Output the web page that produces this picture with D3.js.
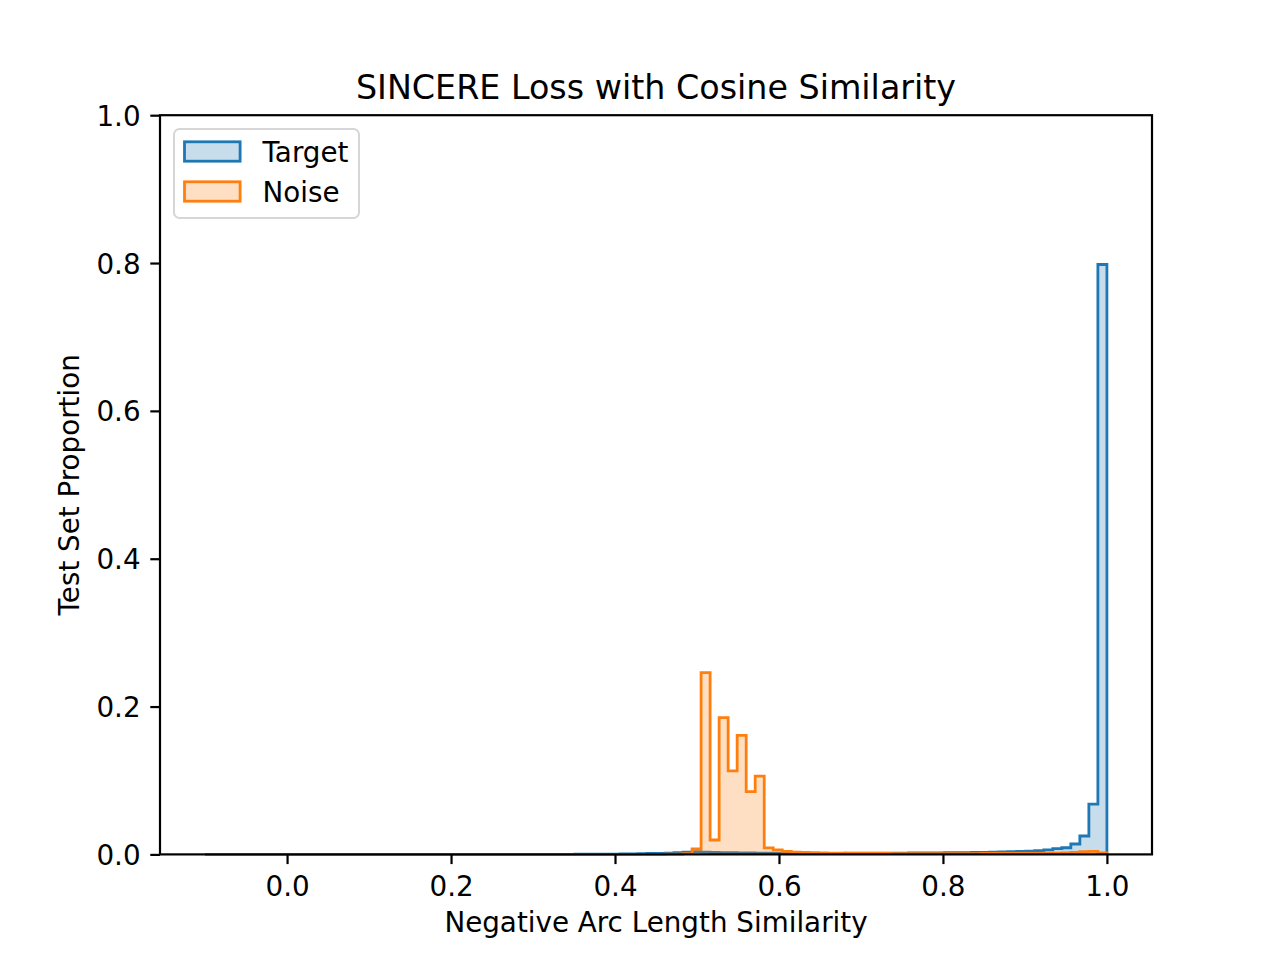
<!DOCTYPE html>
<html>
<head>
<meta charset="utf-8">
<style>
  body { margin: 0; background: #fff; }
  svg { display: block; font-family: 'DejaVu Sans', sans-serif; }
</style>
</head>
<body>
<svg width="1280" height="960"></svg>

<script src="https://d3js.org/d3.v7.min.js"></script>
<script>
  // histogram bins: 100 bins of width 0.011 starting at -0.1
  const binStart = -0.1;
  const binWidth = 0.011;

  // proportion of test set per bin (index 0..99)
  const targetValues = [
    0, 0, 0, 0, 0, 0, 0, 0, 0, 0,
    0, 0, 0, 0, 0, 0, 0, 0, 0, 0,
    0, 0, 0, 0, 0, 0, 0, 0, 0, 0,
    0, 0, 0, 0, 0, 0, 0, 0, 0, 0,
    0, 0.0003, 0.0003, 0.0004, 0.0004, 0.0005, 0.0006, 0.0008, 0.001, 0.0012,
    0.0015, 0.0018, 0.0022, 0.0032, 0.0038, 0.0032, 0.0026, 0.0024, 0.0022, 0.002,
    0.002, 0.0018, 0.0018, 0.0017, 0.0016, 0.0016, 0.0015, 0.0015, 0.0015, 0.0015,
    0.0015, 0.0016, 0.0016, 0.0016, 0.0017, 0.0017, 0.0018, 0.0018, 0.0019, 0.002,
    0.002, 0.0021, 0.0022, 0.0023, 0.0024, 0.0026, 0.0028, 0.003, 0.0033, 0.0036,
    0.004, 0.0045, 0.0052, 0.006, 0.0077, 0.009, 0.0141, 0.0249, 0.068, 0.798
  ];

  const noiseValues = [
    0, 0, 0, 0, 0, 0, 0, 0, 0, 0,
    0, 0, 0, 0, 0, 0, 0, 0, 0, 0,
    0, 0, 0, 0, 0, 0, 0, 0, 0, 0,
    0, 0, 0, 0, 0, 0, 0, 0, 0, 0,
    0, 0, 0, 0, 0, 0, 0, 0, 0, 0,
    0, 0.0003, 0.0005, 0.001, 0.0073, 0.246, 0.0195, 0.185, 0.113, 0.161,
    0.085, 0.106, 0.0087, 0.006, 0.0042, 0.0032, 0.0026, 0.0022, 0.002, 0.0018,
    0.0016, 0.0015, 0.0014, 0.0013, 0.0012, 0.0012, 0.0011, 0.0011, 0.001, 0.001,
    0.001, 0.001, 0.001, 0.001, 0.0011, 0.0011, 0.0012, 0.0012, 0.0013, 0.0013,
    0.0014, 0.0015, 0.0015, 0.0016, 0.0018, 0.002, 0.0028, 0.0038, 0.0042, 0.002
  ];

  const seriesNames = ["Target", "Noise"];
  const xTicks = [0.0, 0.2, 0.4, 0.6, 0.8, 1.0];
  const yTicks = [0.0, 0.2, 0.4, 0.6, 0.8, 1.0];

  const colors = { Target: "#1f77b4", Noise: "#ff7f0e" };

  const fs = 27.78; // 10pt at 200 dpi
  const axL = 160, axR = 1152, axT = 115.2, axB = 854.4;

  const svg = d3.select("svg");

  const x = d3.scaleLinear().domain([-0.155, 1.055]).range([axL, axR]);
  const y = d3.scaleLinear().domain([0, 1]).range([axB, axT]);

  // step outline vertices for a histogram
  function stepPoints(vals) {
    let pts = [[binStart, 0]];
    vals.forEach((v, i) => {
      let e0 = binStart + i * binWidth;
      let e1 = binStart + (i + 1) * binWidth;
      pts.push([e0, v]);
      pts.push([e1, v]);
    });
    pts.push([binStart + vals.length * binWidth, 0]);
    return pts;
  }

  let line = d3.line().x(d => x(d[0])).y(d => y(d[1]));

  let plot = svg.append("g");

  [["Target", targetValues], ["Noise", noiseValues]].forEach(([name, vals]) => {
    let pts = stepPoints(vals);
    plot.append("path")
      .attr("d", line(pts) + "Z")
      .attr("fill", colors[name])
      .attr("fill-opacity", 0.25)
      .attr("stroke", "none");
    plot.append("path")
      .attr("d", line(pts))
      .attr("fill", "none")
      .attr("stroke", colors[name])
      .attr("stroke-width", 2.8)
      .attr("stroke-linejoin", "miter");
  });

  // x axis
  let xAxis = svg.append("g")
    .attr("transform", `translate(0,${axB})`)
    .call(d3.axisBottom(x).tickValues(xTicks).tickFormat(d3.format(".1f")).tickSize(9.7).tickPadding(12))
  xAxis.select(".domain").remove();
  xAxis.selectAll("line").attr("stroke", "#000").attr("stroke-width", 2.2);
  xAxis.selectAll("text")
    .attr("font-size", fs)
    .attr("font-family", "'DejaVu Sans', sans-serif")
    .attr("fill", "#000");

  // y axis
  let yAxis = svg.append("g")
    .attr("transform", `translate(${axL},0)`)
    .call(d3.axisLeft(y).tickValues(yTicks).tickFormat(d3.format(".1f")).tickSize(9.7).tickPadding(9.7))
  yAxis.select(".domain").remove();
  yAxis.selectAll("line").attr("stroke", "#000").attr("stroke-width", 2.2);
  yAxis.selectAll("text")
    .attr("font-size", fs)
    .attr("font-family", "'DejaVu Sans', sans-serif")
    .attr("fill", "#000")
    .attr("dy", "0.36em");

  // spines
  svg.append("rect")
    .attr("x", axL).attr("y", axT)
    .attr("width", axR - axL).attr("height", axB - axT)
    .attr("fill", "none")
    .attr("stroke", "#000")
    .attr("stroke-width", 2.2);

  // title and axis labels
  svg.append("text")
    .attr("x", (axL + axR) / 2).attr("y", 98.5)
    .attr("text-anchor", "middle")
    .attr("font-size", 33.33)
    .text("SINCERE Loss with Cosine Similarity");

  svg.append("text")
    .attr("x", (axL + axR) / 2).attr("y", 931.5)
    .attr("text-anchor", "middle")
    .attr("font-size", fs)
    .text("Negative Arc Length Similarity");

  svg.append("text")
    .attr("transform", `translate(79,${(axT + axB) / 2}) rotate(-90)`)
    .attr("text-anchor", "middle")
    .attr("font-size", fs)
    .text("Test Set Proportion");

  // legend
  let legend = svg.append("g");
  legend.append("rect")
    .attr("x", 174).attr("y", 129)
    .attr("width", 185).attr("height", 89)
    .attr("rx", 5.6)
    .attr("fill", "#fff").attr("fill-opacity", 0.8)
    .attr("stroke", "#d6d6d6").attr("stroke-width", 2);

  seriesNames.forEach((name, i) => {
    let cy = 151.5 + i * 40;
    legend.append("rect")
      .attr("x", 184.5).attr("y", cy - 9.7)
      .attr("width", 55.6).attr("height", 19.4)
      .attr("fill", d3.color(colors[name]).copy({ opacity: 0.25 }))
      .attr("stroke", colors[name])
      .attr("stroke-width", 2.8);
    legend.append("text")
      .attr("x", 262.5).attr("y", cy + 10)
      .attr("font-size", fs)
      .text(name);
  });
</script>
</body>
</html>
